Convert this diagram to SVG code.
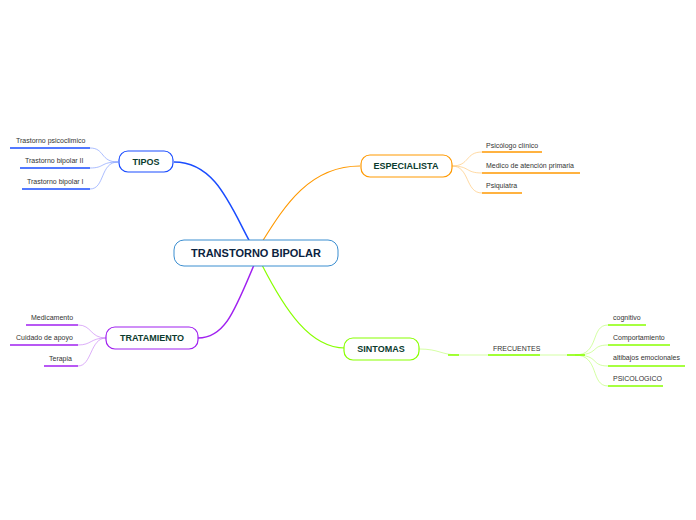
<svg xmlns="http://www.w3.org/2000/svg" width="696" height="520" viewBox="0 0 696 520">
<style>
text{font-family:"Liberation Sans",Arial,sans-serif;font-size:7px;fill:#333}
.b{font-weight:bold;font-size:9px;fill:#0b3b2e;text-anchor:middle}
.c{fill:none}
.t{font-size:11px;fill:#0b2340}
</style>
<rect width="696" height="520" fill="#fff"/>
<g id="connectors" fill="none">
<path d="M174,162 C215,162 230,205 250,242" stroke="#1a4cff" stroke-width="1.5"/>
<path d="M360,166 C310,166 285,205 262,242" stroke="#ff9900" stroke-width="1.2"/>
<path d="M254,265 C235,310 225,338 198,338" stroke="#a020f0" stroke-width="1.5"/>
<path d="M262,265 C285,310 310,348 345,348" stroke="#88ff00" stroke-width="1.2"/>
<g stroke="#1a4cff" stroke-width="0.6" opacity="0.6"><path d="M118,162 C100,162 105,148 90,148"/><path d="M118,162 C100,162 105,168 90,168"/><path d="M118,162 C100,162 105,189 90,189"/></g>
<g stroke="#1a4cff" stroke-width="1.5"><path d="M10,148 H90"/><path d="M20,168 H90"/><path d="M22,189 H90"/></g>
<g stroke="#ff9900" stroke-width="0.6" opacity="0.6"><path d="M452,166 C470,166 465,152 482,152"/><path d="M452,166 C470,166 465,173 482,173"/><path d="M452,166 C470,166 465,193 482,193"/></g>
<g stroke="#ff9900" stroke-width="1.5"><path d="M482,152 H542"/><path d="M482,173 H580"/><path d="M482,193 H522"/></g>
<g stroke="#a020f0" stroke-width="0.6" opacity="0.6"><path d="M106,338 C90,338 92,325 78,325"/><path d="M106,338 C90,338 92,345 78,345"/><path d="M106,338 C90,338 92,366 78,366"/></g>
<g stroke="#a020f0" stroke-width="1.5"><path d="M26,325 H78"/><path d="M10,345 H78"/><path d="M44,366 H78"/></g>
<g stroke="#88ff00" stroke-width="0.6" opacity="0.6"><path d="M419,349 C440,349 440,355 460,355 H575"/><path d="M575,355 C600,355 590,325 608,325"/><path d="M575,355 C600,355 590,345 608,345"/><path d="M575,355 C600,355 590,366 608,366"/><path d="M575,355 C600,355 590,386 608,386"/></g>
<g stroke="#88ff00" stroke-width="1.5"><path d="M448,355 H459"/><path d="M488,355 H540"/><path d="M567,355 H585"/><path d="M608,325 H646"/><path d="M608,345 H670"/><path d="M608,366 H685"/><path d="M608,386 H663"/></g>
</g>
<g id="center"><rect x="174" y="240" width="164" height="26" rx="10" fill="#fff" stroke="#3b8ed0"/><text class="b t" x="256" y="257">TRANSTORNO BIPOLAR</text></g>
<g id="tipos"><rect x="119" y="151" width="54" height="21" rx="9" fill="#fff" stroke="#1a4cff" stroke-width="1.2"/><text class="b" x="146" y="165">TIPOS</text></g>
<g id="especialista"><rect x="361" y="155" width="91" height="22" rx="9" fill="#fff" stroke="#ff9900" stroke-width="1.2"/><text class="b" x="406" y="169">ESPECIALISTA</text></g>
<g id="tratamiento"><rect x="106" y="327" width="92" height="22" rx="9" fill="#fff" stroke="#a020f0" stroke-width="1.2"/><text class="b" x="152" y="341">TRATAMIENTO</text></g>
<g id="sintomas"><rect x="344" y="338" width="75" height="22" rx="9" fill="#fff" stroke="#88ff00" stroke-width="1.2"/><text class="b" x="381" y="352">SINTOMAS</text></g>
<text x="16" y="143">Trastorno psicoclimico</text>
<text x="25" y="163">Trastorno bipolar II</text>
<text x="27" y="184">Trastorno bipolar I</text>
<text x="486" y="148">Psicólogo clínico</text>
<text x="486" y="168">Medico de atención primaria</text>
<text x="486" y="188">Psiquiatra</text>
<text x="31" y="320">Medicamento</text>
<text x="16" y="340">Cuidado de apoyo</text>
<text x="49" y="361">Terapia</text>
<text x="493" y="351">FRECUENTES</text>
<text x="613" y="320">cognitivo</text>
<text x="613" y="340">Comportamiento</text>
<text x="613" y="360">altibajos emocionales</text>
<text x="613" y="381">PSICOLOGICO</text>
</svg>
